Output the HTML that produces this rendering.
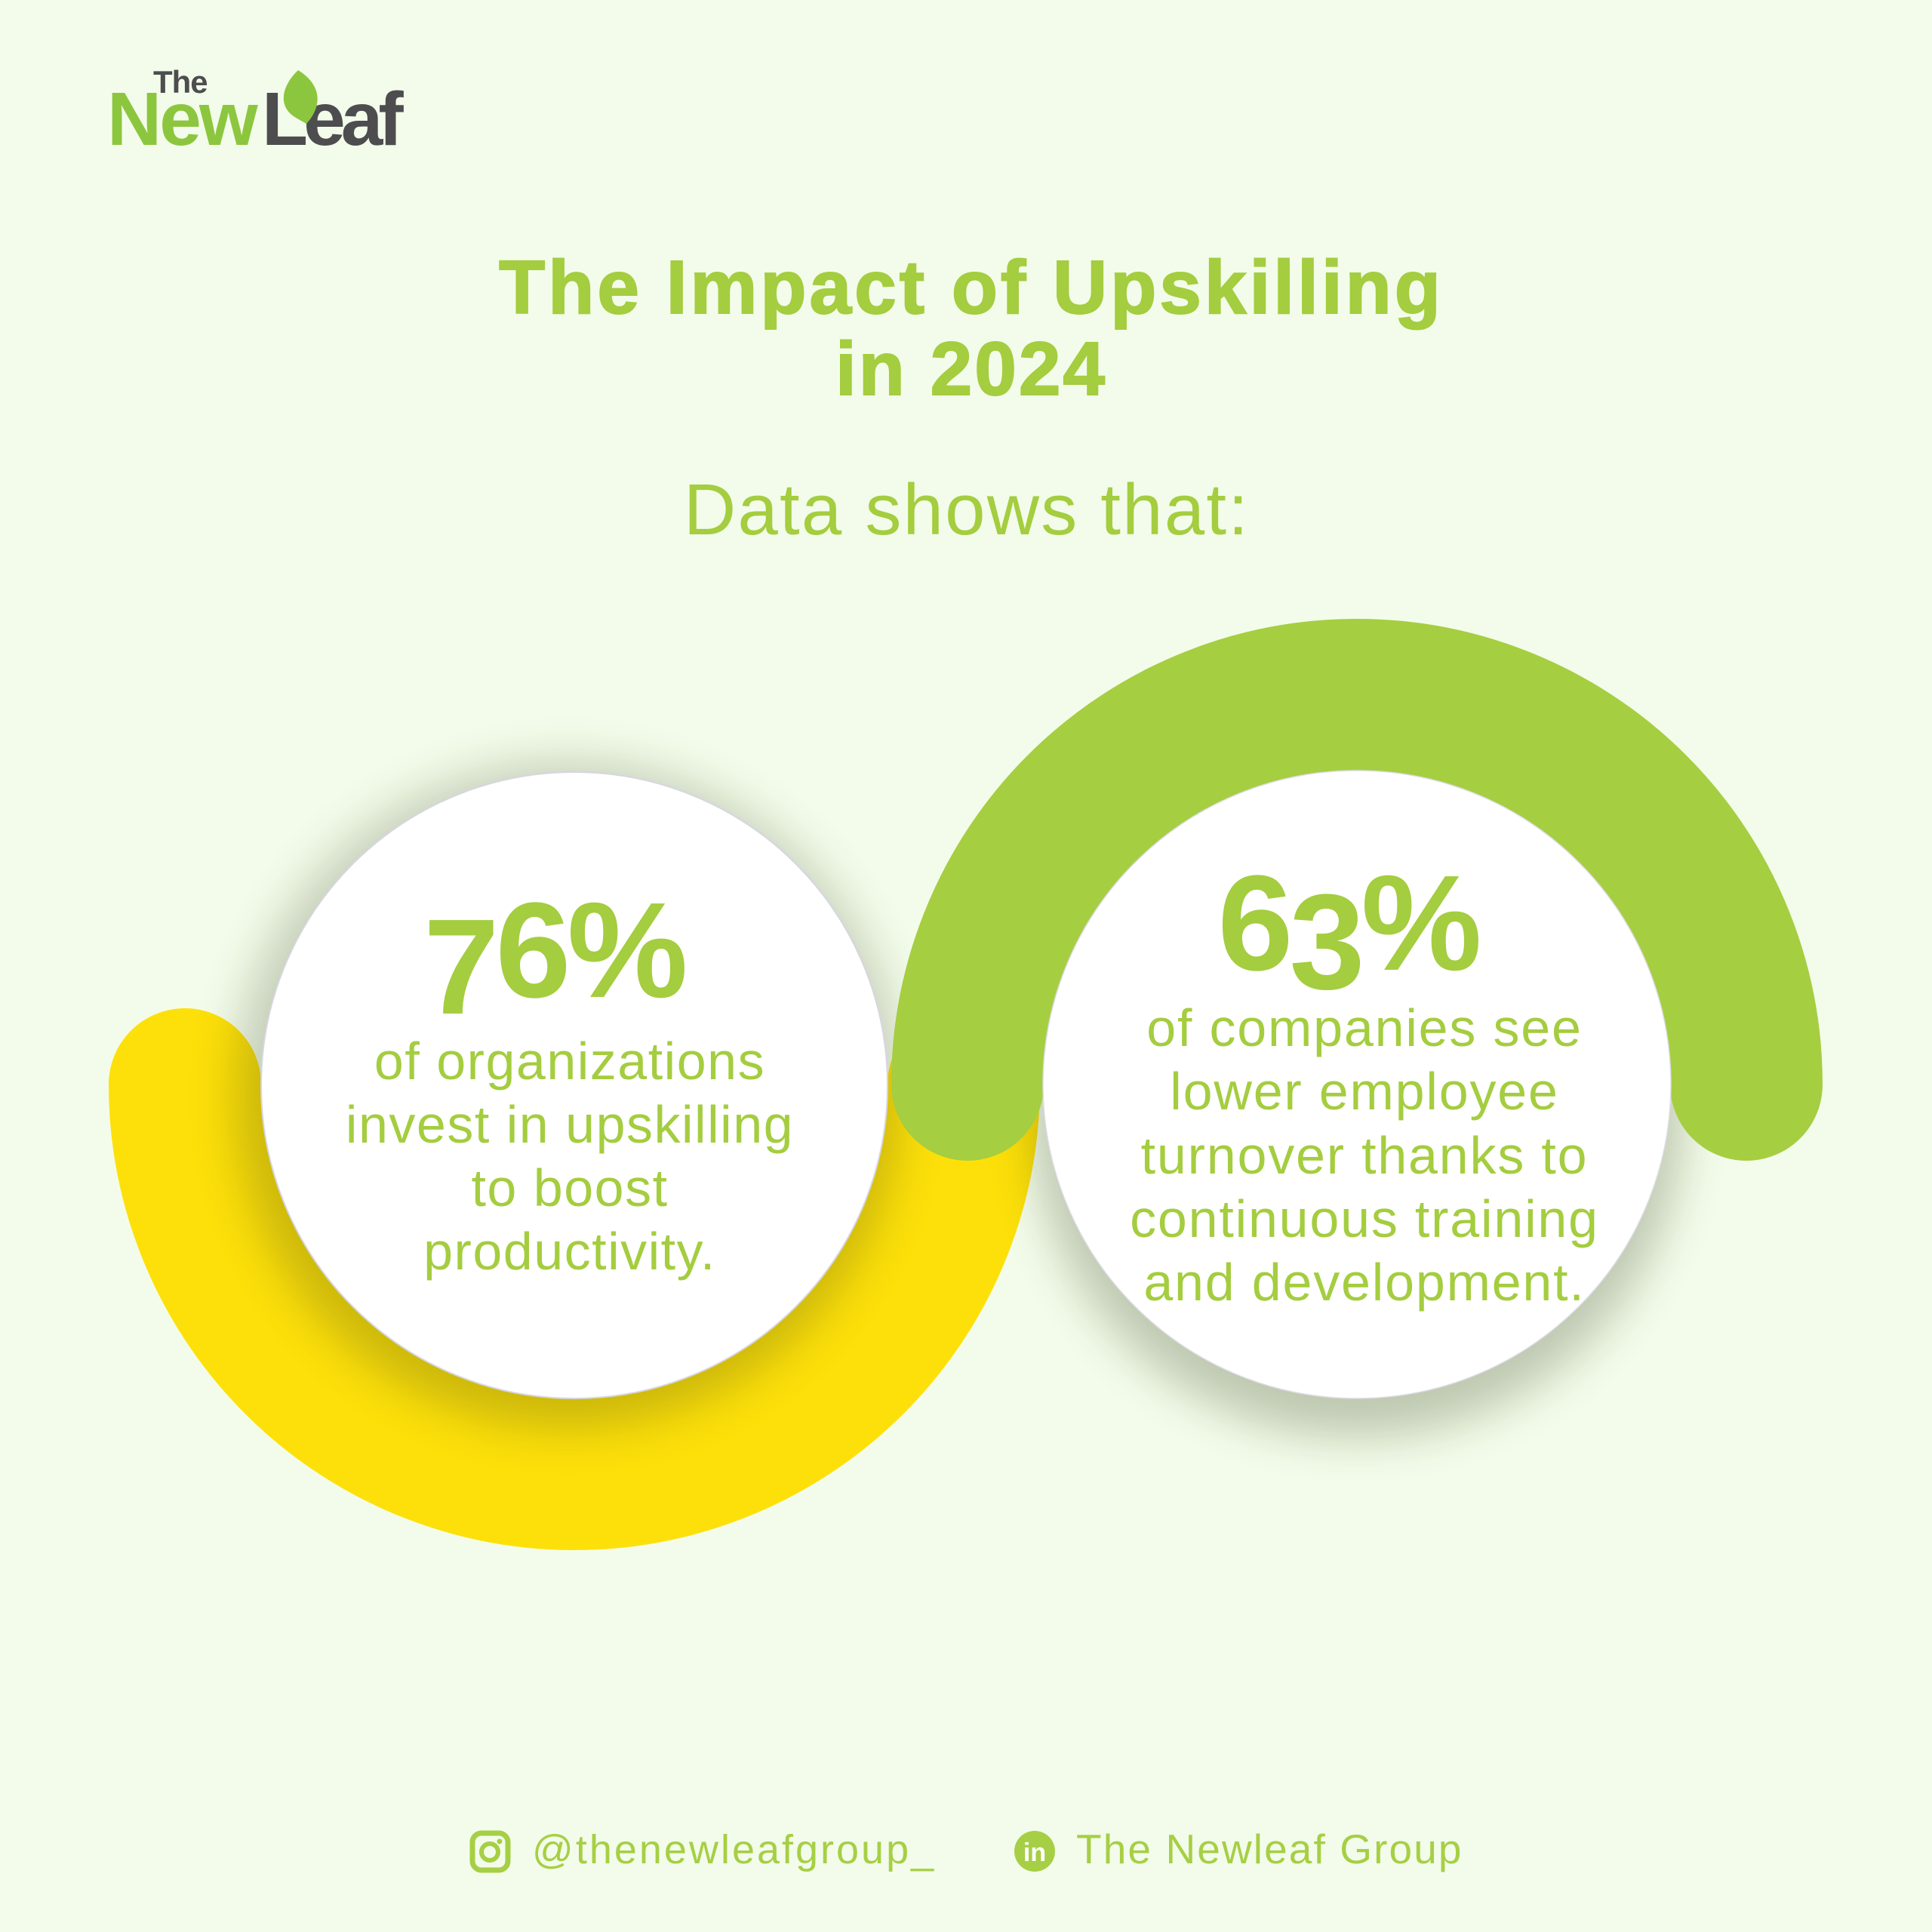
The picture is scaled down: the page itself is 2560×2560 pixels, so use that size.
<!DOCTYPE html>
<html>
<head>
<meta charset="utf-8">
<style>
  html,body{margin:0;padding:0;background:#f3fcea;}
  svg{display:block;}
  text{font-family:"Liberation Sans",sans-serif;}
</style>
</head>
<body>
<svg width="2560" height="2560" viewBox="0 0 2560 2560" xmlns="http://www.w3.org/2000/svg">
  <defs>
    <filter id="blurL" x="-30%" y="-30%" width="160%" height="160%">
      <feGaussianBlur stdDeviation="32"/>
    </filter>
    <filter id="blurR" x="-30%" y="-30%" width="160%" height="160%">
      <feGaussianBlur stdDeviation="30"/>
    </filter>
  </defs>

  <rect x="0" y="0" width="2560" height="2560" fill="#f3fcea"/>

  <!-- Logo -->
  <text x="203" y="123" font-size="42" font-weight="bold" fill="#4d4d4f" letter-spacing="-1">The</text>
  <text x="142" y="192" font-size="100" font-weight="bold" fill="#8cc63e" letter-spacing="-3">New</text>
  <text x="347" y="192" font-size="100" font-weight="bold" fill="#4d4d4f" letter-spacing="-6">Leaf</text>
  <path d="M395 93 C372 115 368 142 392 156 L406 164 C428 140 426 112 395 93 Z" fill="#8cc63e"/>

  <!-- Title -->
  <text x="1287" y="415" font-size="100" font-weight="bold" fill="#a4cd3f" text-anchor="middle" letter-spacing="4" stroke="#a4cd3f" stroke-width="2">The Impact of Upskilling</text>
  <text x="1287" y="523" font-size="100" font-weight="bold" fill="#a4cd3f" text-anchor="middle" letter-spacing="3" stroke="#a4cd3f" stroke-width="2">in 2024</text>
  <text x="1281" y="708" font-size="96" fill="#a4cd3f" text-anchor="middle" letter-spacing="2.2">Data shows that:</text>

  <!-- Yellow ring (bottom half around left circle) -->
  <path d="M245 1437 A516 516 0 0 0 1277 1437" fill="none" stroke="#fde00a" stroke-width="202" stroke-linecap="round"/>

  <!-- Left circle shadow -->
  <circle cx="752" cy="1452" r="440" fill="#2a3410" opacity="0.24" filter="url(#blurL)"/>
  <!-- Left white circle -->
  <circle cx="761" cy="1438" r="415" fill="#ffffff" stroke="#d6d6e0" stroke-width="2"/>

  <!-- Right circle shadow -->
  <circle cx="1798" cy="1472" r="432" fill="#2a3410" opacity="0.26" filter="url(#blurR)"/>

  <!-- Green ring (top half around right circle) -->
  <path d="M1282 1437 A516 516 0 0 1 2314 1437" fill="none" stroke="#a5ce41" stroke-width="202" stroke-linecap="round"/>

  <!-- Right white circle -->
  <circle cx="1798" cy="1437" r="416" fill="#ffffff" stroke="#dcdce4" stroke-width="1.5"/>

  <!-- Left circle text -->
  <text x="734" y="1321" font-size="180" font-weight="bold" fill="#a4cd3f" text-anchor="middle" letter-spacing="-5"><tspan dy="22">7</tspan><tspan dy="-22">6%</tspan></text>
  <g font-size="70" fill="#a4cd3f" text-anchor="middle" letter-spacing="1.5">
    <text x="755" y="1430">of organizations</text>
    <text x="755" y="1514">invest in upskilling</text>
    <text x="755" y="1598">to boost</text>
    <text x="755" y="1682">productivity.</text>
  </g>

  <!-- Right circle text -->
  <text x="1786" y="1285" font-size="180" font-weight="bold" fill="#a4cd3f" text-anchor="middle" letter-spacing="-5"><tspan>6</tspan><tspan dy="25">3</tspan><tspan dy="-25">%</tspan></text>
  <g font-size="70" fill="#a4cd3f" text-anchor="middle" letter-spacing="1.8">
    <text x="1808" y="1386">of companies see</text>
    <text x="1808" y="1470">lower employee</text>
    <text x="1808" y="1555">turnover thanks to</text>
    <text x="1808" y="1639">continuous training</text>
    <text x="1808" y="1723">and development.</text>
  </g>

  <!-- Footer -->
  <rect x="626" y="2429" width="47" height="49" rx="12" ry="12" fill="none" stroke="#a6cf45" stroke-width="7"/>
  <circle cx="649" cy="2454" r="11" fill="none" stroke="#a6cf45" stroke-width="6"/>
  <circle cx="662" cy="2440" r="3.5" fill="#a6cf45"/>
  <text x="705" y="2469" font-size="54" fill="#a6cf45" letter-spacing="3">@thenewleafgroup_</text>

  <circle cx="1371" cy="2453" r="27" fill="#a6cf45"/>
  <text x="1371" y="2466" font-size="34" font-weight="bold" fill="#ffffff" text-anchor="middle">in</text>
  <text x="1426" y="2469" font-size="55" fill="#a6cf45" letter-spacing="2.1">The Newleaf Group</text>
</svg>
</body>
</html>
